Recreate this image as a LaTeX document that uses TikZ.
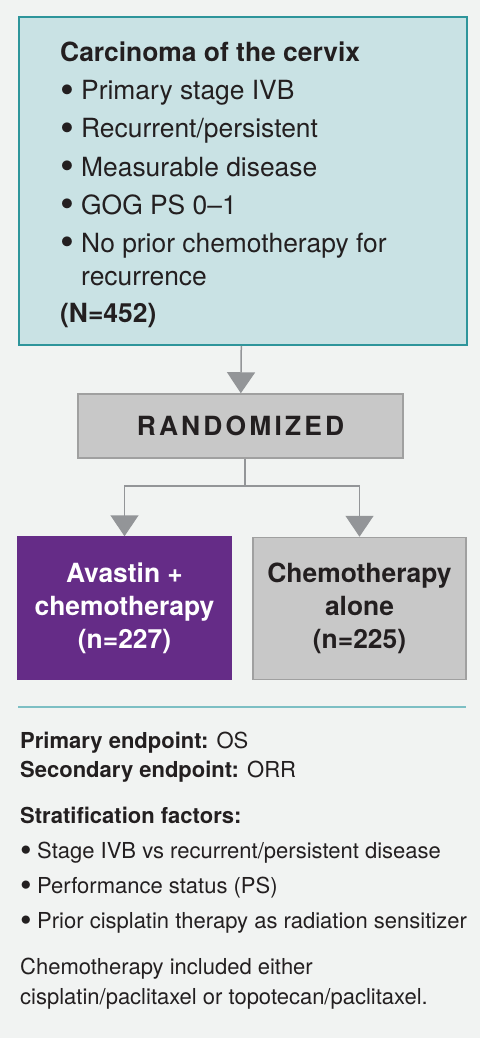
\documentclass[tikz,border=0pt]{standalone}
\usepackage{fontspec}
\setmainfont{TeX Gyre Heros}
\usetikzlibrary{arrows.meta,positioning}

\definecolor{pagebg}{HTML}{F1F3F2}
\definecolor{cervixfill}{HTML}{C9E2E4}
\definecolor{cervixline}{HTML}{2E959B}
\definecolor{armpurple}{HTML}{652C87}
\definecolor{boxgray}{HTML}{C8C8C8}
\definecolor{boxline}{HTML}{A0A0A0}
\definecolor{linkgray}{HTML}{939598}
\definecolor{rulecyan}{HTML}{7DBFC4}
\definecolor{ink}{HTML}{231F20}

\newcommand{\bigtxt}{\fontsize{26.4}{33}\selectfont}
\newcommand{\smalltxt}{\fontsize{22}{29}\selectfont}
\newcommand{\dotmark}{\raisebox{-0.14em}{\scalebox{1.5}{\textbullet}}}
\newcommand{\topbul}{\makebox[21pt][l]{\dotmark}}
\newcommand{\lowbul}{\makebox[17pt][l]{\dotmark}}

\begin{document}
\begin{tikzpicture}[
  x=1pt, y=-1pt,
  line/.style={draw=linkgray, line width=1.5pt},
  arrow/.style={line, -{Triangle[width=28pt, length=21pt]}, linkgray},
  armbox/.style={draw=boxline, line width=1.5pt, minimum width=213pt, minimum height=142pt, inner sep=0, align=center, font=\bigtxt\bfseries},
  bigline/.style={anchor=base west, inner sep=0, text=ink, font=\bigtxt},
  smallline/.style={anchor=base west, inner sep=0, text=ink, font=\smalltxt}
]
\fill[pagebg] (0,0) rectangle (480,1038);
\useasboundingbox (0,0) rectangle (480,1038);

% eligibility box
\node[draw=cervixline, fill=cervixfill, line width=1.8pt, minimum width=448pt, minimum height=328pt, inner sep=0, anchor=north west] (cervix) at (18,16) {};
\node[bigline, font=\bigtxt\bfseries] (head) at (60,62) {Carcinoma of the cervix};
\node[bigline] (stage) at (60,100) {\topbul Primary stage IVB};
\node[bigline] (recur) at (60,138) {\topbul Recurrent/persistent};
\node[bigline] (measure) at (60,176) {\topbul Measurable disease};
\node[bigline] (gog) at (60,214) {\topbul GOG PS 0--1};
\node[bigline] (prior) at (60,252) {\topbul No prior chemotherapy for};
\node[bigline] (priorb) at (81,285) {recurrence};
\node[bigline, font=\bigtxt\bfseries] (total) at (60,322) {(N=452)};

% randomization
\node[draw=boxline, fill=boxgray, line width=1.5pt, minimum width=325pt, minimum height=64pt, inner sep=0, text=ink,
      font=\bigtxt\bfseries\addfontfeatures{LetterSpace=12}] (rand) at (240.5,426) {RANDOMIZED};

% arms
\node[armbox, fill=armpurple, draw=armpurple, text=white] (bev) at (124.5,608) {Avastin +\\chemotherapy\\(n=227)};
\node[armbox, fill=boxgray, text=ink] (chemo) at (359.5,608.5) {Chemotherapy\\alone\\(n=225)};

\coordinate (split) at (245,486);
\draw[arrow] (cervix) -- (rand);
\draw[line] (rand.south -| split) -- (split);
\draw[arrow] (split) -| (bev.north);
\draw[arrow] (split) -| (chemo.north);

% study details
\draw[rulecyan, line width=2pt] (18,707) -- (466,707);
\node[smallline] (primary) at (20,748) {\textbf{Primary endpoint:} OS};
\node[smallline] (secondary) at (20,777) {\textbf{Secondary endpoint:} ORR};
\node[smallline] (strat) at (20,823) {\textbf{Stratification factors:}};
\node[smallline] (stratA) at (20,858) {\lowbul Stage IVB vs recurrent/persistent disease};
\node[smallline] (stratB) at (20,893) {\lowbul Performance status (PS)};
\node[smallline] (stratC) at (20,928) {\lowbul Prior cisplatin therapy as radiation sensitizer};
\node[smallline] (note) at (20,974) {Chemotherapy included either};
\node[smallline] (noteb) at (20,1004) {cisplatin/paclitaxel or topotecan/paclitaxel.};
\end{tikzpicture}
\end{document}
